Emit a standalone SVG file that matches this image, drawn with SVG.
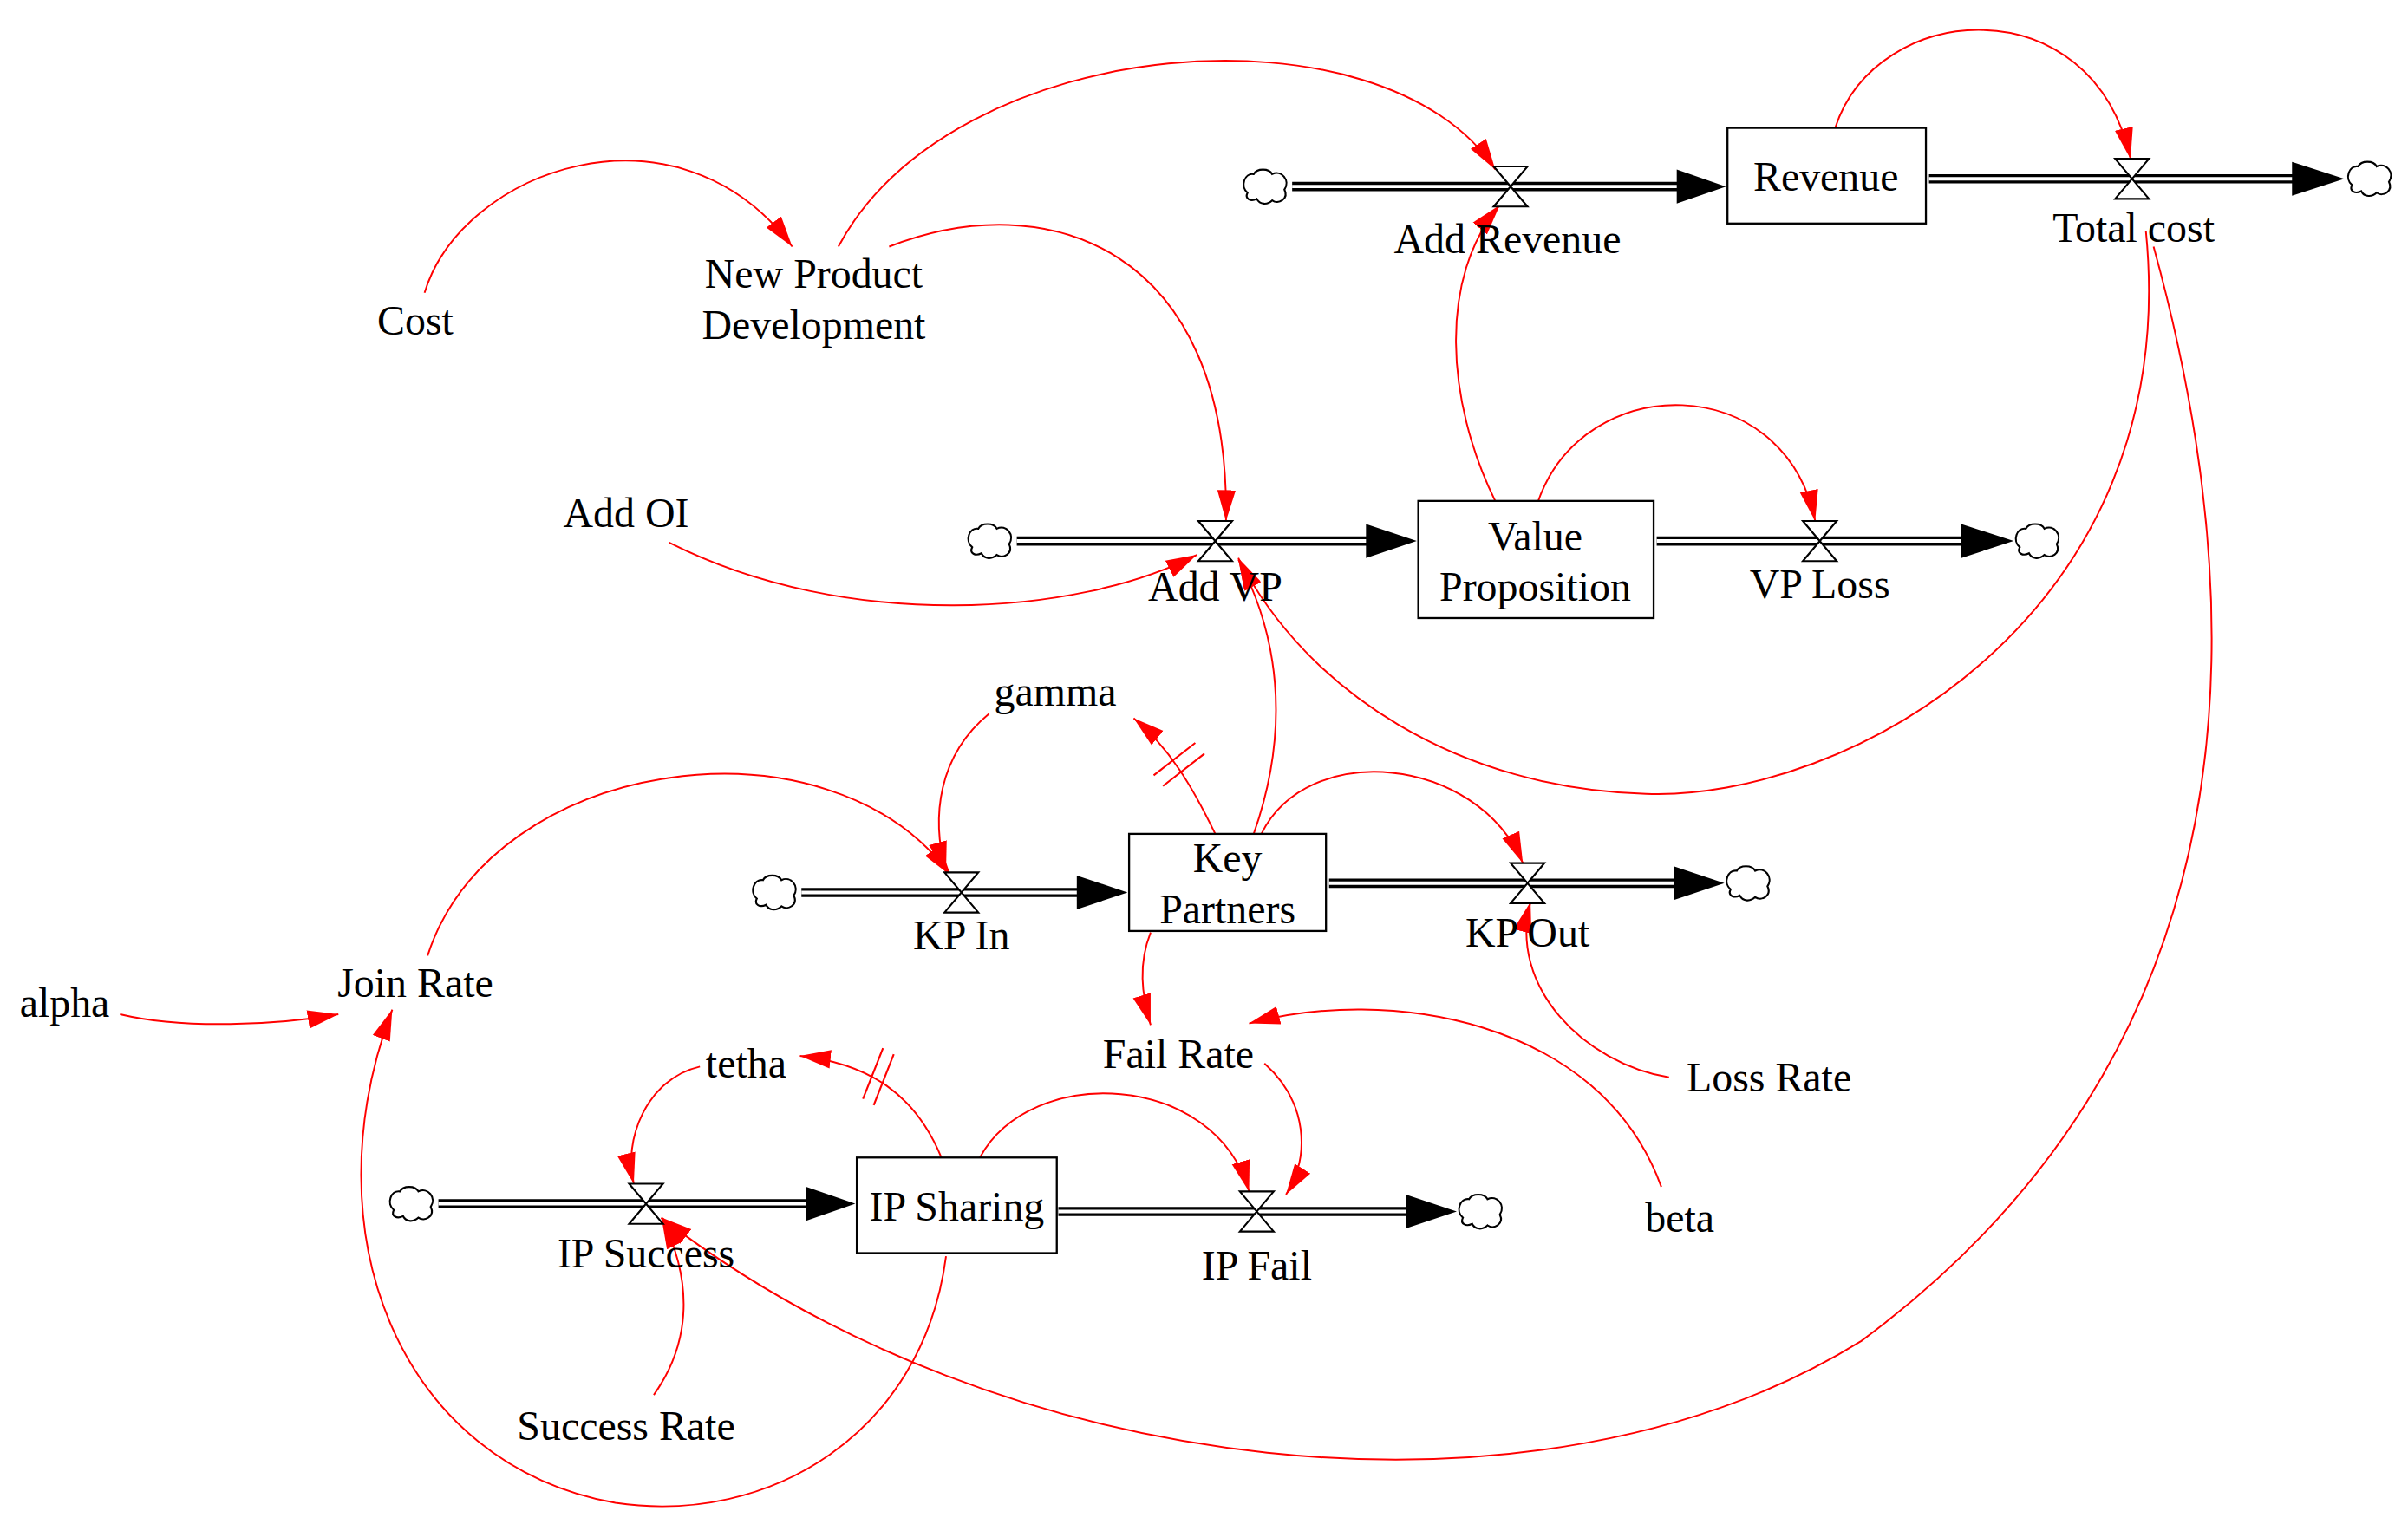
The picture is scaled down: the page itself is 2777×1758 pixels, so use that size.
<svg xmlns="http://www.w3.org/2000/svg" width="2777" height="1758" viewBox="0 0 2777 1758">
<style>
text{font-family:"Liberation Serif","Times New Roman",serif;font-size:27px;fill:#000;text-anchor:middle}
.box{fill:#fff;stroke:#000;stroke-width:1.3}
.po{fill:none;stroke:#000;stroke-width:6}
.pi{fill:none;stroke:#fff;stroke-width:2.2}
.lk{fill:none;stroke:#f00;stroke-width:1.1}
.hs{stroke:#f00;stroke-width:1.2}
.vl{fill:#fff;stroke:#000;stroke-width:1.2}
.cl{fill:#fff;stroke:#000;stroke-width:1.2}
</style>
<defs>
<marker id="ra" viewBox="0 0 10 10" refX="10" refY="5" markerWidth="20" markerHeight="20" markerUnits="userSpaceOnUse" orient="auto"><path d="M0,2 L10,5 L0,8 Z" fill="#f00"/></marker>
<symbol id="cloud" viewBox="-16 -12 32 24" overflow="visible"><path class="cl" d="M-12,4 C-17,0 -14,-9 -8,-8 C-6,-12 2,-12 4,-8 C10,-11 16,-4 12,2 C15,8 8,12 4,9 C1,12 -4,12 -6,8 C-10,10 -14,8 -12,4 Z"/></symbol>
<symbol id="valve" viewBox="-13 -15 26 30" overflow="visible"><path class="vl" d="M-11,-13 L11,-13 L-11,13 L11,13 Z"/></symbol>
</defs>
<g transform="scale(1.774,1.778)">
<g id="connectors">
<g id="flows">
<path class="po" d="M840,121 H1105"/><path class="pi" d="M840,121 H1100"/><path d="M1090,110 L1122,121 L1090,132 Z"/>
<path class="po" d="M1254,116 H1505"/><path class="pi" d="M1254,116 H1500"/><path d="M1490,105 L1524,116 L1490,127 Z"/>
<path class="po" d="M661,351 H905"/><path class="pi" d="M661,351 H900"/><path d="M888,340 L921,351 L888,362 Z"/>
<path class="po" d="M1077,351 H1290"/><path class="pi" d="M1077,351 H1285"/><path d="M1275,340 L1309,351 L1275,362 Z"/>
<path class="po" d="M521,579 H717"/><path class="pi" d="M521,579 H712"/><path d="M700,568 L733,579 L700,590 Z"/>
<path class="po" d="M864,573 H1103"/><path class="pi" d="M864,573 H1098"/><path d="M1088,562 L1121,573 L1088,584 Z"/>
<path class="po" d="M285,781 H540"/><path class="pi" d="M285,781 H535"/><path d="M524,770 L556,781 L524,792 Z"/>
<path class="po" d="M688,786 H930"/><path class="pi" d="M688,786 H925"/><path d="M914,775 L947,786 L914,797 Z"/>
</g>
<g id="links">
<path class="lk" marker-end="url(#ra)" d="M276,190 C300,110 440,60 515,160"/>
<path class="lk" marker-end="url(#ra)" d="M545,160 C620,20 900,0 972,110"/>
<path class="lk" marker-end="url(#ra)" d="M578,160 C680,120 800,160 797,338"/>
<path class="lk" marker-end="url(#ra)" d="M435,352 C550,410 700,400 778,360"/>
<path class="lk" marker-end="url(#ra)" d="M972,325 C940,260 935,180 975,133"/>
<path class="lk" marker-end="url(#ra)" d="M1193,83 C1220,0 1360,-10 1385,103"/>
<path class="lk" marker-end="url(#ra)" d="M1000,325 C1030,240 1160,240 1180,338"/>
<path class="lk" marker-end="url(#ra)" d="M1395,150 C1420,400 1200,520 1070,515 C950,512 850,450 805,362"/>
<path class="lk" marker-end="url(#ra)" d="M1400,160 C1480,450 1440,700 1210,870 C1000,1000 650,960 430,790"/>
<path class="lk" marker-end="url(#ra)" d="M815,541 C840,470 830,410 805,363"/>
<path class="lk" marker-end="url(#ra)" d="M790,541 C775,510 760,485 737,466"/>
<path class="hs" d="M750,503 L777,482 M756,510 L783,489"/>
<path class="lk" marker-end="url(#ra)" d="M643,463 C610,490 605,530 615,566"/>
<path class="lk" marker-end="url(#ra)" d="M278,620 C320,490 540,460 618,568"/>
<path class="lk" marker-end="url(#ra)" d="M820,541 C850,480 960,490 990,560"/>
<path class="lk" marker-end="url(#ra)" d="M1085,699 C1030,690 980,640 995,585"/>
<path class="lk" marker-end="url(#ra)" d="M748,605 C740,625 742,645 748,665"/>
<path class="lk" marker-end="url(#ra)" d="M1080,770 C1040,660 900,640 812,664"/>
<path class="lk" marker-end="url(#ra)" d="M822,690 C850,715 852,750 836,775"/>
<path class="lk" marker-end="url(#ra)" d="M637,751 C670,690 790,695 812,773"/>
<path class="lk" marker-end="url(#ra)" d="M612,751 C595,710 565,690 520,685"/>
<path class="hs" d="M561,713 L574,680 M568,717 L581,684"/>
<path class="lk" marker-end="url(#ra)" d="M455,692 C420,700 405,740 412,768"/>
<path class="lk" marker-end="url(#ra)" d="M425,905 C450,870 450,830 430,790"/>
<path class="lk" marker-end="url(#ra)" d="M615,815 C600,930 500,990 400,975 C260,950 200,800 255,655"/>
<path class="lk" marker-end="url(#ra)" d="M78,658 C120,668 180,665 220,658"/>
</g>
</g>
<g id="clouds">
<use href="#cloud" x="807" y="109" width="32" height="24"/>
<use href="#cloud" x="1525" y="104" width="32" height="24"/>
<use href="#cloud" x="628" y="339" width="32" height="24"/>
<use href="#cloud" x="1309" y="339" width="32" height="24"/>
<use href="#cloud" x="488" y="567" width="32" height="24"/>
<use href="#cloud" x="1121" y="561" width="32" height="24"/>
<use href="#cloud" x="252" y="769" width="32" height="24"/>
<use href="#cloud" x="947" y="774" width="32" height="24"/>
</g>
<g id="valves">
<use href="#valve" x="969" y="106" width="26" height="30"/>
<use href="#valve" x="1373" y="101" width="26" height="30"/>
<use href="#valve" x="777" y="336" width="26" height="30"/>
<use href="#valve" x="1170" y="336" width="26" height="30"/>
<use href="#valve" x="612" y="564" width="26" height="30"/>
<use href="#valve" x="980" y="558" width="26" height="30"/>
<use href="#valve" x="407" y="766" width="26" height="30"/>
<use href="#valve" x="804" y="771" width="26" height="30"/>
</g>
<g id="revenue"><rect class="box" x="1123" y="83" width="129" height="62"/><text x="1187" y="124">Revenue</text></g>
<g id="value-proposition"><rect class="box" x="922" y="325" width="153" height="76"/><text x="998" y="357">Value</text><text x="998" y="390">Proposition</text></g>
<g id="key-partners"><rect class="box" x="734" y="541" width="128" height="63"/><text x="798" y="566">Key</text><text x="798" y="599">Partners</text></g>
<g id="ip-sharing"><rect class="box" x="557" y="751" width="130" height="62"/><text x="622" y="792">IP Sharing</text></g>
<g id="labels">
<text x="980" y="164">Add Revenue</text>
<text x="1387" y="157">Total cost</text>
<text x="270" y="217">Cost</text>
<text x="529" y="187">New Product</text>
<text x="529" y="220">Development</text>
<text x="407" y="342">Add OI</text>
<text x="790" y="390">Add VP</text>
<text x="1183" y="388">VP Loss</text>
<text x="686" y="458">gamma</text>
<text x="625" y="616">KP In</text>
<text x="993" y="614">KP Out</text>
<text x="42" y="660">alpha</text>
<text x="270" y="647">Join Rate</text>
<text x="766" y="693">Fail Rate</text>
<text x="1150" y="708">Loss Rate</text>
<text x="485" y="699">tetha</text>
<text x="1092" y="799">beta</text>
<text x="420" y="822">IP Success</text>
<text x="817" y="830">IP Fail</text>
<text x="407" y="934">Success Rate</text>
</g>
</g>
</svg>
